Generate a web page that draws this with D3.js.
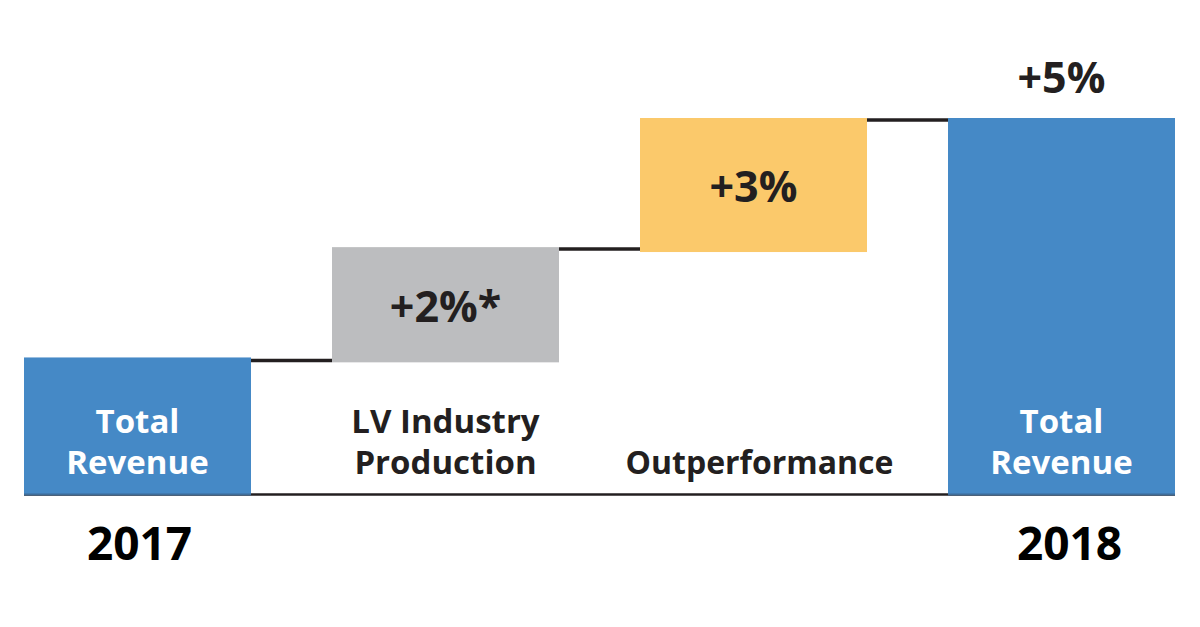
<!DOCTYPE html>
<html><head><meta charset="utf-8">
<script src="https://cdn.jsdelivr.net/npm/d3@7"></script>
<style>html,body{margin:0;padding:0;background:#fff;}svg{display:block;}</style>
</head><body><svg id="c" width="1200" height="627"></svg>
<script>
// Data (arbitrary index units, 2018 total = 100)
const categories = ["2017", "LV Industry Production", "Outperformance", "2018"];
const barStart = [0, 35.1, 64.4, 0];
const barEnd = [36.4, 65.7, 100, 100];
const valueLabels = ["", "+2%*", "+3%", "+5%"];
const categoryLines = [["Total", "Revenue"], ["LV Industry", "Production"], ["Outperformance"], ["Total", "Revenue"]];
const yearLabels = ["2017", "", "", "2018"];
const connectorLevels = [35.6, 65.2, 99.5];
const barColors = ["#4589c6", "#bcbdbf", "#fbc96b", "#4589c6"];

const svg = d3.select("#c");
const font = "'Open Sans', sans-serif";
const x = d3.scaleBand().domain(categories).range([24, 1175]).paddingInner(0.263).paddingOuter(0);
const y = d3.scaleLinear().domain([0, 100]).range([494.5, 118]);

// baseline
svg.append("line").attr("x1", x(categories[0])).attr("x2", x(categories[3]) + x.bandwidth())
  .attr("y1", y(0)).attr("y2", y(0)).attr("stroke", "#231f20").attr("stroke-width", 2.5);

// connectors
connectorLevels.forEach((v, i) => {
  svg.append("line")
    .attr("x1", x(categories[i]) + x.bandwidth()).attr("x2", x(categories[i + 1]))
    .attr("y1", y(v)).attr("y2", y(v)).attr("stroke", "#231f20").attr("stroke-width", 3.5);
});

// bars
svg.selectAll("rect.bar").data(categories).join("rect").attr("class", "bar")
  .attr("x", d => x(d)).attr("width", x.bandwidth())
  .attr("y", (d, i) => y(barEnd[i])).attr("height", (d, i) => y(barStart[i]) - y(barEnd[i]))
  .attr("fill", (d, i) => barColors[i]);

// bottom edge of blue bars
[0, 3].forEach(i => {
  svg.append("line").attr("x1", x(categories[i])).attr("x2", x(categories[i]) + x.bandwidth())
    .attr("y1", y(0)).attr("y2", y(0)).attr("stroke", "#3e6d99").attr("stroke-width", 2);
});

// value labels
valueLabels.forEach((t, i) => {
  if (!t) return;
  const cx = x(categories[i]) + x.bandwidth() / 2;
  let yy;
  if (i === 3) yy = y(barEnd[i]) - 25;
  else yy = (y(barStart[i]) + y(barEnd[i])) / 2 + 17;
  svg.append("text").attr("x", cx).attr("y", yy).attr("text-anchor", "middle")
    .attr("font-family", font).attr("font-weight", 700).attr("font-size", 43)
    .attr("fill", "#231f20").text(t);
});

// category labels
categoryLines.forEach((lines, i) => {
  const cx = x(categories[i]) + x.bandwidth() / 2;
  const white = (i === 0 || i === 3);
  const base = lines.length === 2 ? [433, 474] : [474];
  lines.forEach((ln, j) => {
    svg.append("text").attr("x", cx + (i === 2 ? 6 : 0)).attr("y", base[j]).attr("text-anchor", "middle")
      .attr("font-family", font).attr("font-weight", 700)
      .attr("font-size", white ? 33 : (i === 2 ? 32 : 33))
      .attr("fill", white ? "#ffffff" : "#231f20").text(ln);
  });
});

// year labels
yearLabels.forEach((t, i) => {
  if (!t) return;
  const cx = x(categories[i]) + x.bandwidth() / 2;
  svg.append("text").attr("x", cx + (i === 0 ? 2 : 8)).attr("y", 560).attr("text-anchor", "middle")
    .attr("font-family", font).attr("font-weight", 700).attr("font-size", 46)
    .attr("fill", "#000").text(t);
});
</script></body></html>
